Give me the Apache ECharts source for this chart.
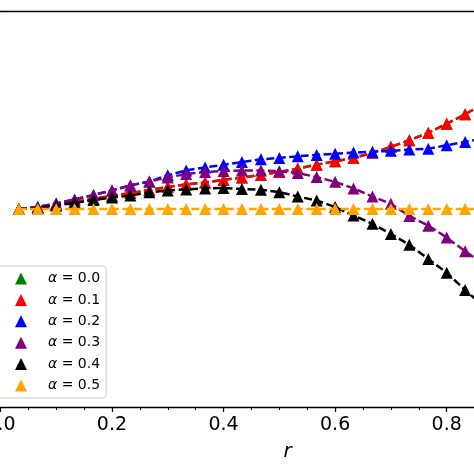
<!DOCTYPE html>
<html>
<head>
<meta charset="utf-8">
<script src="https://cdn.jsdelivr.net/npm/echarts@6/dist/echarts.min.js"></script>
<style>
html,body{margin:0;padding:0;background:#fff;}
#c{width:474px;height:474px;}
</style>
</head>
<body>
<div id="c"></div>
<script>
var rValues = [0.033,0.067,0.1,0.133,0.167,0.2,0.233,0.267,0.3,0.333,0.367,0.4,0.433,0.467,0.5,0.533,0.567,0.6,0.633,0.667,0.7,0.733,0.767,0.8,0.833,0.867];
var alphaLabels = ['0.0','0.1','0.2','0.3','0.4','0.5'];
var colors = ['#008000','#ff0000','#0000ff','#800080','#000000','#ffa500'];
var xTicks = [0.0,0.2,0.4,0.6,0.8,1.0];

var alpha00 = [1.000,1.008,1.020,1.035,1.051,1.066,1.081,1.096,1.111,1.124,1.134,1.147,1.159,1.172,1.187,1.204,1.224,1.241,1.258,1.284,1.314,1.347,1.385,1.430,1.478,1.534];
var alpha01 = [1.000,1.008,1.020,1.035,1.051,1.066,1.081,1.096,1.111,1.124,1.134,1.147,1.159,1.172,1.187,1.204,1.224,1.241,1.258,1.284,1.314,1.347,1.385,1.430,1.478,1.534];
var alpha02 = [1.000,1.010,1.028,1.048,1.071,1.094,1.119,1.139,1.170,1.195,1.210,1.223,1.237,1.251,1.258,1.266,1.273,1.279,1.285,1.289,1.294,1.300,1.304,1.322,1.339,1.357];
var alpha03 = [1.000,1.010,1.028,1.048,1.071,1.094,1.119,1.139,1.159,1.177,1.187,1.192,1.195,1.195,1.191,1.182,1.161,1.137,1.104,1.063,1.026,0.965,0.916,0.856,0.787,0.719];
var alpha04 = [1.000,1.005,1.018,1.030,1.046,1.058,1.068,1.084,1.094,1.099,1.104,1.106,1.101,1.097,1.085,1.063,1.043,1.010,0.967,0.925,0.874,0.820,0.748,0.678,0.591,0.506];
var alpha05 = [1.000,1.000,1.000,1.000,1.000,1.000,1.000,1.000,1.000,1.000,1.000,1.000,1.000,1.000,1.000,1.000,1.000,1.000,1.000,1.000,1.000,1.000,1.000,1.000,1.000,1.000];

var allSeries = [alpha00, alpha01, alpha02, alpha03, alpha04, alpha05];

var chart = echarts.init(document.getElementById('c'), null, {renderer:'canvas'});

function pairs(vals){
  var out = [];
  for (var i = 0; i < vals.length; i++) out.push([rValues[i], vals[i]]);
  return out;
}

var series = allSeries.map(function(vals, i){
  return {
    name: 'α=' + alphaLabels[i],
    type: 'line',
    data: pairs(vals),
    symbol: 'triangle',
    symbolSize: 12,
    showAllSymbol: true,
    itemStyle: {color: colors[i]},
    lineStyle: {color: colors[i], width: 2.5, type: [8,3.5]},
    z: 2 + i,
    animation: false
  };
});

var option = {
  animation: false,
  backgroundColor: '#ffffff',
  grid: {left: 0.4, right: -101, top: 11, bottom: 67, outerBoundsMode: 'none', containLabel: false},
  xAxis: [{
    type: 'value',
    min: 0,
    max: 1.03,
    interval: 0.2,
    name: 'r',
    nameLocation: 'middle',
    nameGap: 35,
    nameTextStyle: {fontFamily: 'DejaVu Sans', fontStyle: 'italic', fontSize: 20, color: '#000'},
    axisLine: {show: true, onZero: false, lineStyle: {color: '#000', width: 1.3}},
    axisTick: {show: true, length: 5, lineStyle: {color: '#000', width: 1.3}},
    minorTick: {show: true, splitNumber: 4, length: 3, lineStyle: {color: '#000', width: 1}},
    axisLabel: {
      fontFamily: 'DejaVu Sans', fontSize: 19, color: '#000', margin: 9,
      showMaxLabel: false,
      formatter: function(v){ return v.toFixed(1); }
    },
    splitLine: {show: false}
  }, {
    type: 'value',
    position: 'top',
    min: 0,
    max: 1.03,
    axisLine: {show: true, onZero: false, lineStyle: {color: '#000', width: 1.3}},
    axisTick: {show: false},
    axisLabel: {show: false},
    splitLine: {show: false}
  }],
  yAxis: {
    type: 'value',
    min: 0,
    max: 2,
    show: false
  },
  legend: {
    orient: 'vertical',
    left: -6,
    top: 266,
    padding: [5, 6, 5, 5],
    itemWidth: 44,
    itemHeight: 15,
    itemGap: 6.4,
    backgroundColor: 'rgba(255,255,255,0.8)',
    borderColor: '#cccccc',
    borderWidth: 1,
    borderRadius: 3,
    lineStyle: {opacity: 0, width: 0},
    z: 20,
    data: allSeries.map(function(v, i){ return 'α=' + alphaLabels[i]; }),
    formatter: function(name){
      return '{i|α}{n| = ' + name.split('=')[1] + '}';
    },
    textStyle: {
      fontFamily: 'DejaVu Sans', fontSize: 14, color: '#000', lineHeight: 15,
      rich: {
        i: {fontFamily: 'DejaVu Sans', fontStyle: 'italic', fontSize: 14, color: '#000'},
        n: {fontFamily: 'DejaVu Sans', fontSize: 14, color: '#000'}
      }
    }
  },
  series: series
};
chart.setOption(option);
</script>
</body>
</html>
